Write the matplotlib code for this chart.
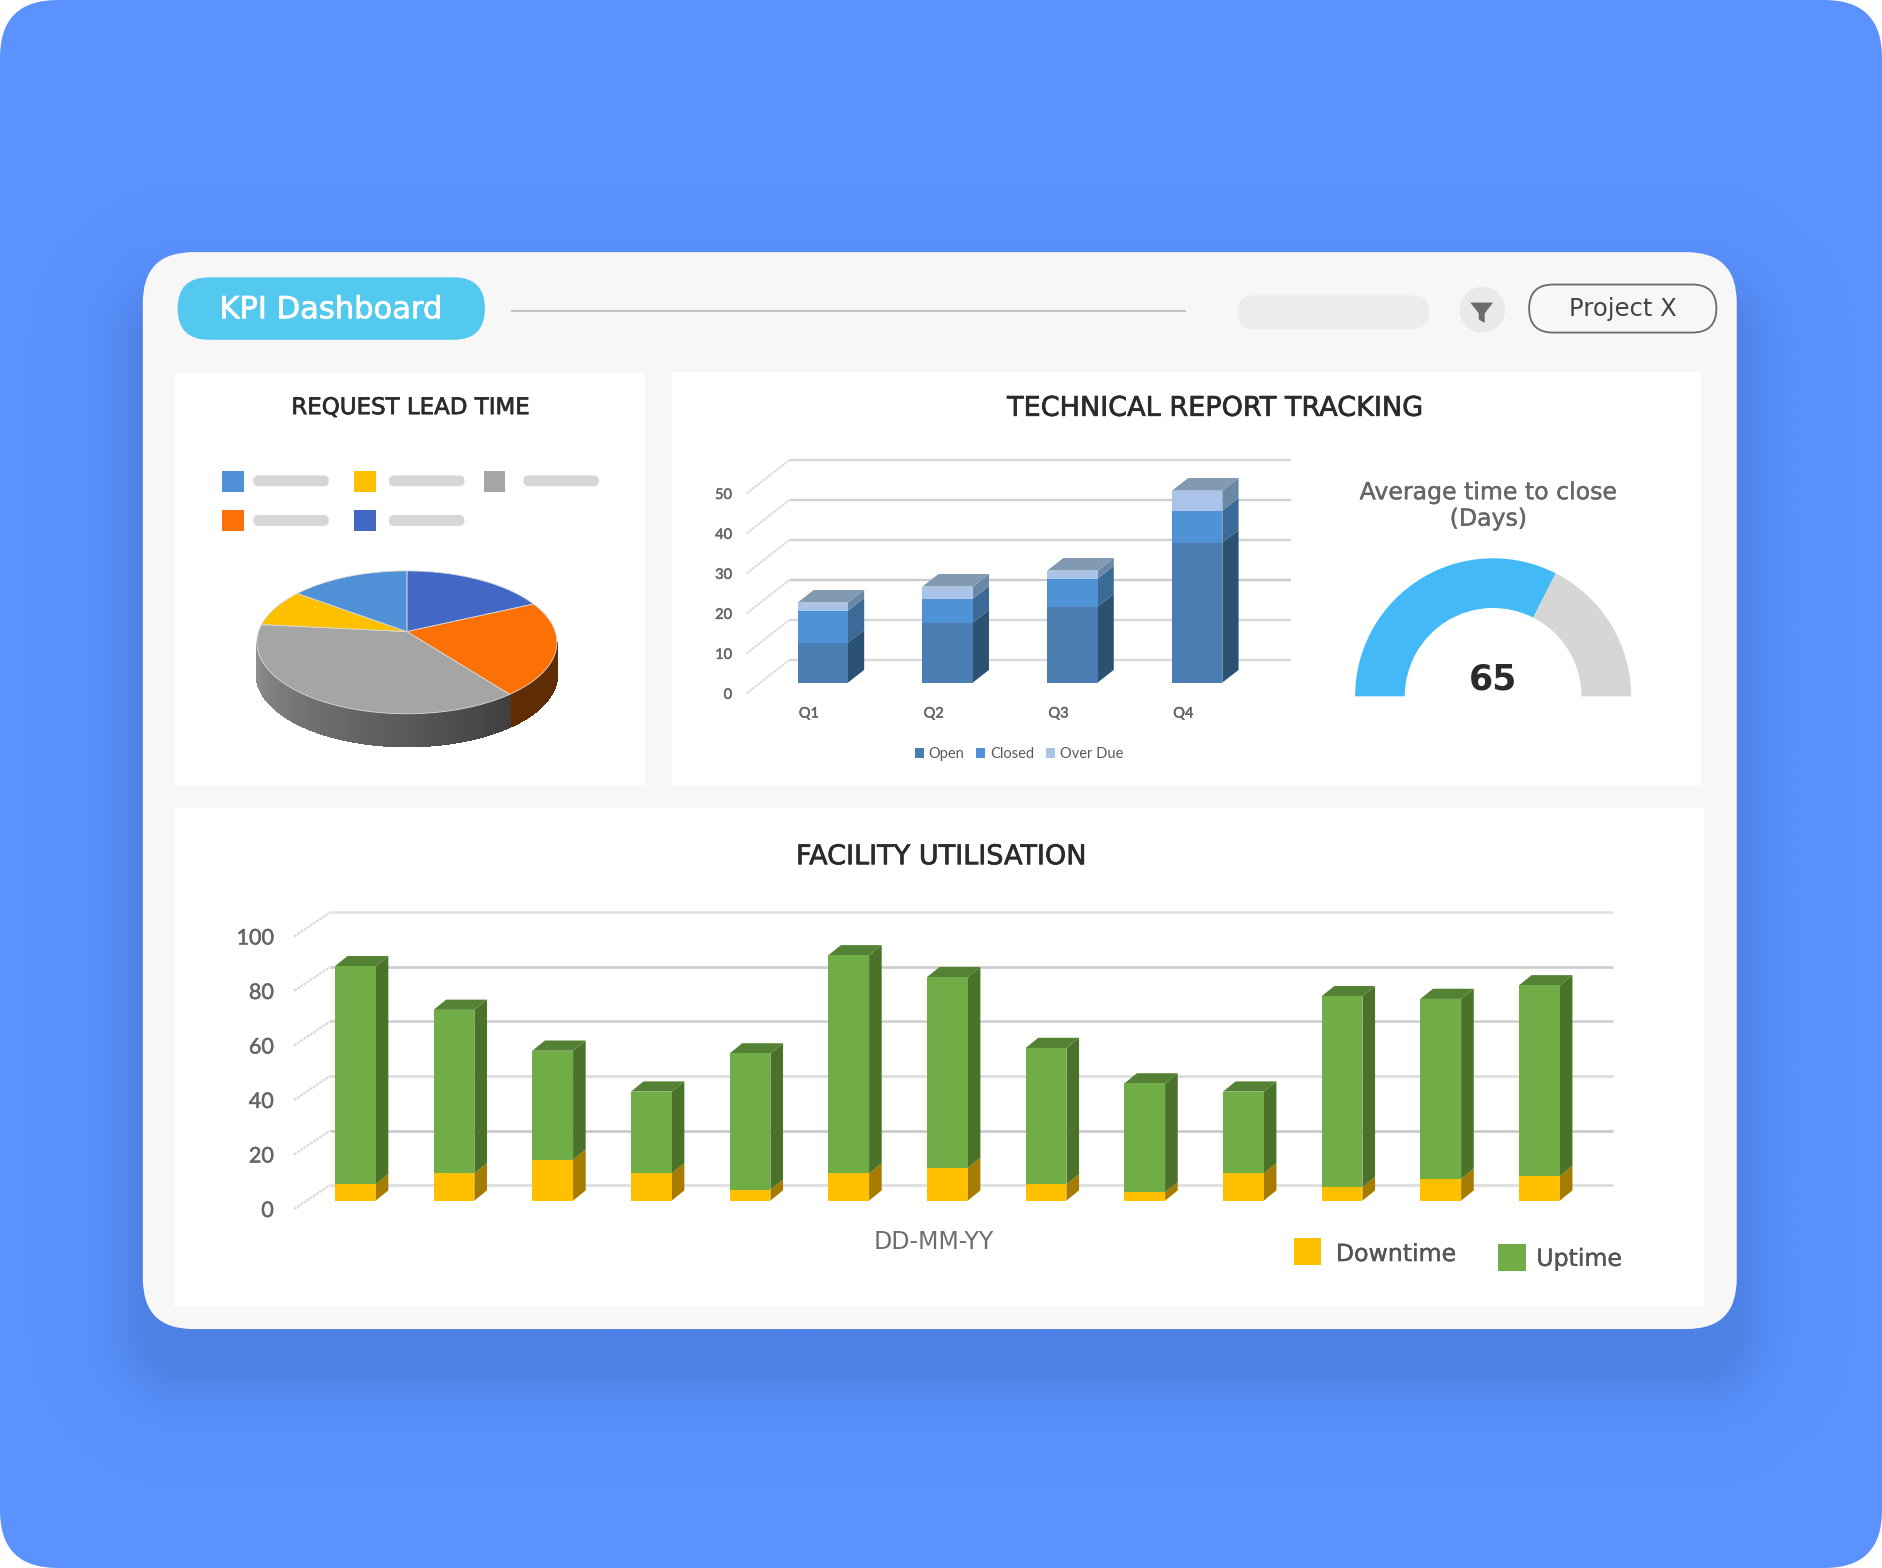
import numpy as np
import matplotlib
matplotlib.use("Agg")
import matplotlib.pyplot as plt
import matplotlib.patheffects as pe
from matplotlib.patches import FancyBboxPatch, Polygon, Rectangle, Circle
from matplotlib.transforms import Affine2D

# ---------- data ----------
pie_labels = ["Blue", "Orange", "Gray", "Yellow", "Light blue"]
pie_values = [16, 22, 41, 8, 13]
pie_colors = ["#4268C5", "#FB7106", "#A5A5A5", "#FFC000", "#4F90D6"]

quarters = ["Q1", "Q2", "Q3", "Q4"]
tech_open = [10, 15, 19, 35]
tech_closed = [8, 6, 7, 8]
tech_overdue = [2, 3, 2, 5]
tech_ticks = [0, 10, 20, 30, 40, 50]

gauge_value = 65
gauge_max = 100

downtime = [6, 10, 15, 10, 4, 10, 12, 6, 3, 10, 5, 8, 9]
uptime = [80, 60, 40, 30, 50, 80, 70, 50, 40, 30, 70, 66, 70]
fac_ticks = [0, 20, 40, 60, 80, 100]

# ---------- page helpers (layout units: 1568 x 1306) ----------
W, H = 1568.0, 1306.0
S = 1882.0 / W
TXT = "DejaVu Sans"
CHART = "Lato"
fig = plt.figure(figsize=(18.82, 15.68), dpi=100, facecolor="white")


def px_axes(x0, y0, x1, y1, z=2):
    a = fig.add_axes([x0 / W, 1 - y1 / H, (x1 - x0) / W, (y1 - y0) / H], zorder=z)
    a.patch.set_alpha(0)
    return a


def pts(p):
    return p * S * 0.72


bg = px_axes(0, 0, W, H, z=0)
bg.set_xlim(0, W)
bg.set_ylim(H, 0)
bg.axis("off")


def rbox(x0, y0, x1, y1, r, **kw):
    p = FancyBboxPatch((x0 + r, y0 + r), x1 - x0 - 2 * r, y1 - y0 - 2 * r,
                       boxstyle=f"round,pad={r},rounding_size={r}", **kw)
    bg.add_patch(p)
    return p


def label(x, y, s, size, color, ha="center", stroke=0.35, weight="normal", **kw):
    t = bg.text(x, y, s, color=color, fontsize=size, family=TXT, weight=weight, ha=ha, va="center", zorder=5, **kw)
    if stroke:
        t.set_path_effects([pe.withStroke(linewidth=stroke, foreground=color)])
    return t


rbox(0, 0, W, H, 48, fc="#5B92FF", ec="none", zorder=1)

# soft card shadow
yy, xx = np.mgrid[0:H:2, 0:W:2]
cx, cy, hw, hh, rr = 783, 695, 664, 448, 36
qx = np.abs(xx - cx) - hw + rr
qy = np.abs(yy - cy) - hh + rr
sd = np.hypot(np.maximum(qx, 0), np.maximum(qy, 0)) + np.minimum(np.maximum(qx, qy), 0) - rr
alpha = np.clip(0.30 * (1 - np.tanh(sd / 38.0)), 0, 0.30)
img = np.zeros(alpha.shape + (4,))
img[..., :3] = matplotlib.colors.to_rgb("#2F5AA8")
img[..., 3] = alpha
im = bg.imshow(img, extent=(0, W, H, 0), zorder=2, interpolation="bilinear", aspect="auto")
im.set_clip_path(FancyBboxPatch((48, 48), W - 96, H - 96, boxstyle="round,pad=48,rounding_size=48",
                                transform=bg.transData))
bg.set_xlim(0, W)
bg.set_ylim(H, 0)

rbox(119, 210, 1447, 1107, 42, fc="#F7F7F7", ec="none", zorder=3)
for (a, b, c, d) in [(146, 311, 537, 654), (560, 310, 1417, 654), (145, 673, 1420, 1088)]:
    bg.add_patch(Rectangle((a, b), c - a, d - b, fc="white", ec="none", zorder=4))

# header
rbox(148, 231, 404, 283, 26, fc="#54C9F0", ec="none", zorder=4)
label(275.5, 258, "KPI Dashboard", 22, "white", stroke=0.5)
bg.plot([426, 988], [259, 259], color="#C4C4C4", lw=pts(1.6), zorder=4, solid_capstyle="butt")
rbox(1031, 246, 1191, 274, 14, fc="#ECECEC", ec="none", zorder=4)
bg.add_patch(Circle((1235, 258), 19, fc="#E9E9E9", ec="none", zorder=4))
bg.add_patch(Polygon([(1225, 252), (1244, 252), (1237, 261), (1237, 269), (1232, 266), (1232, 261)],
                     fc="#6B6B6B", ec="none", zorder=5))
rbox(1274, 237, 1430, 277, 20, fc="none", ec="#6A6A6A", lw=pts(1.5), zorder=4)
label(1352, 257.5, "Project X", 17.5, "#444444", stroke=0)

# panel titles
label(342, 339.5, "REQUEST LEAD TIME", 16.5, "#2B2B2B", stroke=0.5)
label(1012, 340.5, "TECHNICAL REPORT TRACKING", 19.5, "#2B2B2B", stroke=0.5)
label(784, 714, "FACILITY UTILISATION", 19.5, "#2B2B2B", stroke=0.5)

# pie legend (label text hidden as placeholder pills in the source)
leg_pos = [(185, 392, 211), (295, 392, 324), (403, 392, 436), (185, 425, 211), (295, 425, 324)]
leg_col = [pie_colors[4], pie_colors[3], pie_colors[2], pie_colors[1], pie_colors[0]]
for (sx, sy, px), col in zip(leg_pos, leg_col):
    bg.add_patch(Rectangle((sx, sy), 18, 17.5, fc=col, ec="none", zorder=5))
    rbox(px, sy + 4, px + 63, sy + 13, 4.5, fc="#D6D6D6", ec="none", zorder=5)

# ---------- 3D pie ----------
pa = px_axes(214, 475.5, 464, 594.5)
pa.set_xlim(-1, 1)
pa.set_ylim(-1, 1)
pa.axis("off")
vals = np.array(pie_values, float)
edges = np.concatenate([[0], np.cumsum(vals) / vals.sum() * 2 * np.pi])
apex = (0, 0.15)
thick = 0.454


def rim(t):
    return np.sin(t), np.cos(t)


side_dark = {"#FB7106": ("#5F2C04", "#5F2C04"), "#A5A5A5": ("#3F3F3F", "#8E8E8E")}
for i, col in enumerate(pie_colors):
    a0, a1 = edges[i], edges[i + 1]
    lo, hi = max(a0, np.pi / 2), min(a1, 3 * np.pi / 2)
    if hi > lo and col in side_dark:
        c0 = np.array(matplotlib.colors.to_rgb(side_dark[col][0]))
        c1 = np.array(matplotlib.colors.to_rgb(side_dark[col][1]))
        ts = np.linspace(lo, hi, 60)
        for k in range(len(ts) - 1):
            f = k / (len(ts) - 2)
            x0, y0 = rim(ts[k])
            x1, y1 = rim(ts[k + 1])
            pa.add_patch(Polygon([(x0, y0), (x1, y1), (x1, y1 - thick), (x0, y0 - thick)],
                                 fc=c0 + (c1 - c0) * f, ec=c0 + (c1 - c0) * f, lw=1.0,
                                 antialiased=False, clip_on=False, zorder=2))
for i, col in enumerate(pie_colors):
    ts = np.linspace(edges[i], edges[i + 1], 80)
    x, y = rim(ts)
    xs = np.concatenate([[apex[0]], x])
    ys = np.concatenate([[apex[1]], y])
    pa.fill(xs, ys, fc=col, ec="#D9D9D9", lw=0.6, clip_on=False, zorder=3)


def axis_style(a, labelsize, pad):
    for s in a.spines.values():
        s.set_visible(False)
    a.tick_params(length=0, labelsize=labelsize, labelcolor="#666666", pad=pad)
    for t in a.get_xticklabels() + a.get_yticklabels():
        t.set_family(CHART)
        t.set_path_effects([pe.withStroke(linewidth=0.35, foreground="#666666")])


def bars_3d(a, x, bottoms, heights, width, T, dx, dy, front, side, top=None, label=None):
    a.bar(x, heights, width, bottom=bottoms, color=front, transform=T, label=label, zorder=3, clip_on=False)
    for xi, b, h in zip(x, bottoms, heights):
        r = xi + width / 2
        a.add_patch(Polygon([(r, b), (r + dx, b + dy), (r + dx, b + h + dy), (r, b + h)],
                            fc=side, ec="none", transform=T, zorder=2.5, clip_on=False))
        if top:
            l = xi - width / 2
            a.add_patch(Polygon([(l, b + h), (r, b + h), (r + dx, b + h + dy), (l + dx, b + h + dy)],
                                fc=top, ec="none", transform=T, zorder=2.6, clip_on=False))


def wall(a, ticks, xl, xr, wx, wy, T_back, lw, shades):
    for v, c in zip(ticks, shades):
        a.hlines(v, xl, xr, color=c, lw=lw, transform=T_back, zorder=1, clip_on=False)
        a.plot([xl, xl + wx], [v, v + wy], color="#DCDCDC", lw=lw * 0.9, ls=(0, (1.2, 0.4)), zorder=1, clip_on=False)


# ---------- technical report tracking ----------
ta = px_axes(622, 411, 1040, 577.5)
ta.set_xlim(-0.5, 3.52)
ta.set_ylim(0, 50)
ux, uy = 104.0, 3.33  # layout px per data unit
T_mid = ta.transData + Affine2D().translate(11.5 * S, 9 * S)
T_back = ta.transData + Affine2D().translate(36 * S, 28 * S)
wall(ta, tech_ticks, -0.5, 3.52, 36 / ux, 28 / uy, T_back, pts(2),
     ["#DADADA", "#D6D6D6", "#CBCBCB", "#D4D4D4", "#CFCFCF", "#DADADA"])
xq = np.arange(len(quarters))
b1 = np.array(tech_open, float)
b2 = b1 + np.array(tech_closed)
bars_3d(ta, xq, np.zeros(4), tech_open, 0.404, T_mid, 13.5 / ux, 10.5 / uy, "#4A7EB3", "#2B5273", label="Open")
bars_3d(ta, xq, b1, tech_closed, 0.404, T_mid, 13.5 / ux, 10.5 / uy, "#4F93D6", "#3A6A95", label="Closed")
bars_3d(ta, xq, b2, tech_overdue, 0.404, T_mid, 13.5 / ux, 10.5 / uy, "#A9C4E8", "#6A88A5", top="#8299B2", label="Over Due")
ta.set_xticks(xq, quarters)
ta.set_yticks(tech_ticks)
axis_style(ta, 10.5, pts(10))
ta.tick_params(axis="x", pad=pts(11))
ta.tick_params(axis="y", pad=pts(12))
leg = ta.legend(loc="center", bbox_to_anchor=(849 / W, 1 - 628 / H), bbox_transform=fig.transFigure, ncols=3,
                frameon=False, handlelength=0.6, handleheight=0.65, handletextpad=0.35,
                columnspacing=0.8, prop={"family": CHART, "size": 10.5}, labelcolor="#595959")

# ---------- gauge ----------
ga = px_axes(1129, 465, 1359, 695)
ga.set_xlim(-1, 1)
ga.set_ylim(-1, 1)
ga.pie([gauge_value, gauge_max - gauge_value, gauge_max], colors=["#43BAF7", "#D6D6D6", "none"], startangle=180,
       counterclock=False, radius=1, wedgeprops=dict(width=0.36, edgecolor="none"))
ga.set_xlim(-1, 1)
ga.set_ylim(-1, 1)
ga.set_aspect("auto")
label(1240, 410, "Average time to close", 17, "#666666", stroke=0.3)
label(1240, 432, "(Days)", 17, "#666666", stroke=0.3)
label(1244, 566, str(gauge_value), 25, "#2B2B2B", stroke=0, weight="bold")

# ---------- facility utilisation ----------
fa = px_axes(245, 780, 1314, 1007)
fa.set_xlim(-0.493, 12.51)
fa.set_ylim(0, 100)
vx, vy = 82.2, 2.27
T_mid2 = fa.transData + Affine2D().translate(10.5 * S, 7 * S)
T_back2 = fa.transData + Affine2D().translate(30 * S, 20 * S)
wall(fa, fac_ticks, -0.493, 12.51, 30 / vx, 20 / vy, T_back2, pts(2.2),
     ["#DCDCDC", "#C9C9C9", "#DCDCDC", "#D0D0D0", "#CDCDCD", "#E2E2E2"])
xf = np.arange(len(downtime))
bars_3d(fa, xf, np.zeros(len(xf)), downtime, 34 / vx, T_mid2, 10.5 / vx, 8.5 / vy, "#FFC000", "#A67C00")
bars_3d(fa, xf, downtime, uptime, 34 / vx, T_mid2, 10.5 / vx, 8.5 / vy, "#70AD47", "#4A7229", top="#548235")
fa.set_xticks([])
fa.set_yticks(fac_ticks)
axis_style(fa, 15.5, pts(17))
label(778, 1034.5, "DD-MM-YY", 17, "#6E6E6E", stroke=0)
bg.add_patch(Rectangle((1078, 1031), 23, 23, fc="#FFC000", ec="none", zorder=5))
label(1113, 1044.5, "Downtime", 17, "#555555", ha="left", stroke=0.3)
bg.add_patch(Rectangle((1248, 1036), 23, 23, fc="#70AD47", ec="none", zorder=5))
label(1280, 1048.5, "Uptime", 17, "#555555", ha="left", stroke=0.3)

fig.savefig("out.png", dpi=100, facecolor="white")
